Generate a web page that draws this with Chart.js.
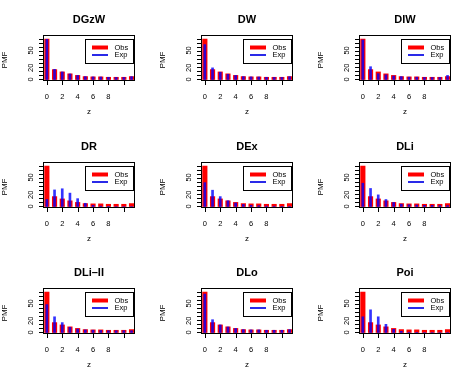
<!DOCTYPE html>
<html>
<head>
<meta charset="utf-8">
<script src="https://cdn.jsdelivr.net/npm/chart.js@4.4.1/dist/chart.umd.min.js"></script>
<style>
html,body{margin:0;padding:0;background:#fff;}
#wrap{position:relative;width:474px;height:379px;overflow:hidden;background:#fff;}
canvas{position:absolute;}
</style>
</head>
<body>
<div id="wrap"></div>
<script>
// ---- data ----
const zValues = [0, 1, 2, 3, 4, 5, 6, 7, 8, 9, 10, 11];
const obsPMF  = [69.5, 17, 13, 9.7, 7, 5, 4.5, 4.5, 3.8, 3.8, 3.8, 5];
const expDGzW = [69, 17.5, 13, 9.5, 7, 5, 4.5, 4.3, 3.8, 3.6, 3.6, 5];
const expDW   = [60, 20, 12.5, 9, 7, 5, 4.5, 4.3, 3.8, 3.6, 3.6, 5];
const expDIW  = [68, 22, 10, 8, 6, 5, 4, 4, 3.5, 3.5, 3.5, 7];
const expDR   = [12, 28.5, 30.5, 23, 13.5, 5.5, 2, 0.7, 0.2, 0, 0, 0];
const expDEx  = [41, 28, 17, 10, 6, 3.5, 2, 1.3, 0.8, 0.5, 0.3, 0.2];
const expDLi  = [40, 31, 20, 12, 7, 4, 3, 2.5, 2, 2, 1.5, 1.5];
const expDLiII= [48, 27, 17, 9, 6, 4.5, 4, 3.5, 3, 3, 3, 3];
const expDLo  = [66, 22, 13, 9.5, 7, 5, 4.5, 4.5, 3.8, 3.8, 3.8, 5];
const expPoi  = [27, 39, 27, 14, 5.5, 2, 0.5, 0.2, 0, 0, 0, 0];
const panelTitles = ['DGzW', 'DW', 'DIW', 'DR', 'DEx', 'DLi', 'DLi\u2013II', 'DLo', 'Poi'];
const panelExp = [expDGzW, expDW, expDIW, expDR, expDEx, expDLi, expDLiII, expDLo, expPoi];
const xTickValues = [0, 2, 4, 6, 8, 10];
const xTickLabels = ['0', '2', '4', '6', '8', ''];
const yTickValues = [0, 7, 14, 21, 28, 35, 42, 49, 56, 63, 70];
const yLabelValues = [0, 20, 50];
const legendLabels = ['Obs', 'Exp'];
const xTitle = 'z';
const yTitle = 'PMF';

// ---- drawing ----
const FONT = "'Liberation Sans', Arial, Helvetica, sans-serif";
const RED = '#ff0000', BLUE = 'rgba(0,0,255,0.8)';

const rStyle = {
  id: 'rStyle',
  afterDatasetsDraw(chart, args, opts) {
    const ctx = chart.ctx, a = chart.chartArea;
    const xs = chart.scales.x, ys = chart.scales.y;
    ctx.save();
    ctx.strokeStyle = '#000';
    ctx.fillStyle = '#000';
    ctx.lineWidth = 1;
    // frame
    ctx.strokeRect(Math.round(a.left) + 0.5, Math.round(a.top) + 0.5,
                   Math.round(a.right - a.left) - 1, Math.round(a.bottom - a.top) - 1);
    // y ticks
    ctx.beginPath();
    yTickValues.forEach(v => {
      const y = Math.round(ys.getPixelForValue(v)) + 0.5;
      ctx.moveTo(a.left + 0.5, y); ctx.lineTo(a.left - 4, y);
    });
    // x ticks
    xTickValues.forEach(v => {
      const x = Math.round(xs.getPixelForValue(v)) + 0.5;
      ctx.moveTo(x, a.bottom - 1); ctx.lineTo(x, a.bottom + 4);
    });
    ctx.stroke();
    // x labels
    ctx.font = '7.5px ' + FONT;
    ctx.textAlign = 'center';
    ctx.textBaseline = 'alphabetic';
    xTickValues.forEach((v, i) => {
      ctx.fillText(xTickLabels[i], xs.getPixelForValue(v), a.bottom + 17.5);
    });
    // y labels (rotated)
    yLabelValues.forEach(v => {
      ctx.save();
      ctx.translate(a.left - 12, ys.getPixelForValue(v));
      ctx.rotate(-Math.PI / 2);
      ctx.textAlign = 'center';
      ctx.textBaseline = 'middle';
      ctx.fillText(String(v), 0, 0);
      ctx.restore();
    });
    // axis titles
    ctx.font = '8px ' + FONT;
    ctx.textAlign = 'center';
    ctx.textBaseline = 'alphabetic';
    ctx.fillText(xTitle, (a.left + a.right) / 2, a.bottom + 33);
    ctx.save();
    ctx.translate(a.left - 38, (a.top + a.bottom) / 2 + 2);
    ctx.rotate(-Math.PI / 2);
    ctx.textBaseline = 'middle';
    ctx.fillText(yTitle, 0, 0);
    ctx.restore();
    // title
    ctx.font = 'bold 11px ' + FONT;
    ctx.fillText(opts.title, (a.left + a.right) / 2, a.top - 12.5);
    // legend
    const bw = 48, bh = 24;
    const bx = Math.round(a.right - 2 - bw) + 0.5, by = Math.round(a.top + 4) + 0.5;
    ctx.fillStyle = '#fff';
    ctx.fillRect(bx, by, bw, bh);
    ctx.strokeStyle = '#000';
    ctx.lineWidth = 1;
    ctx.strokeRect(bx, by, bw, bh);
    ctx.lineCap = 'butt';
    ctx.beginPath();
    ctx.strokeStyle = RED; ctx.lineWidth = 4;
    ctx.moveTo(bx + 6.5, by + 8); ctx.lineTo(bx + 22.5, by + 8);
    ctx.stroke();
    ctx.beginPath();
    ctx.strokeStyle = '#2a2ae8'; ctx.lineWidth = 2;
    ctx.moveTo(bx + 6.5, by + 15.5); ctx.lineTo(bx + 22.5, by + 15.5);
    ctx.stroke();
    ctx.fillStyle = '#000';
    ctx.font = '7.5px ' + FONT;
    ctx.textAlign = 'left';
    ctx.textBaseline = 'middle';
    ctx.fillText(legendLabels[0], bx + 29, by + 8);
    ctx.fillText(legendLabels[1], bx + 29, by + 15.5);
    ctx.restore();
  }
};

const wrap = document.getElementById('wrap');
const colOff = [0, 158, 316];
const rowOff = [0, 127, 253];
const PW = 158, PH = 126;

panelTitles.forEach((title, idx) => {
  const c = document.createElement('canvas');
  c.width = PW; c.height = PH;
  c.style.width = PW + 'px'; c.style.height = PH + 'px';
  c.style.left = colOff[idx % 3] + 'px';
  c.style.top = rowOff[Math.floor(idx / 3)] + 'px';
  wrap.appendChild(c);
  const exp = panelExp[idx];
  new Chart(c.getContext('2d'), {
    type: 'bar',
    data: {
      datasets: [
        { label: legendLabels[1], data: zValues.map((z, i) => ({ x: z, y: exp[i] })),
          backgroundColor: BLUE, barThickness: 2, grouped: false, order: 0 },
        { label: legendLabels[0], data: zValues.map((z, i) => ({ x: z, y: obsPMF[i] })),
          backgroundColor: RED, barThickness: 4.5, grouped: false, order: 1 }
      ]
    },
    options: {
      responsive: false,
      animation: false,
      devicePixelRatio: 1,
      events: [],
      layout: { padding: { left: 43, right: 23, top: 35, bottom: 45 } },
      scales: {
        x: { type: 'linear', min: -0.5, max: 11.45, display: false, offset: false },
        y: { min: -2.6, max: 76.5, display: false }
      },
      plugins: {
        legend: { display: false },
        tooltip: { enabled: false },
        rStyle: { title: title }
      }
    },
    plugins: [rStyle]
  });
});
</script>
</body>
</html>
